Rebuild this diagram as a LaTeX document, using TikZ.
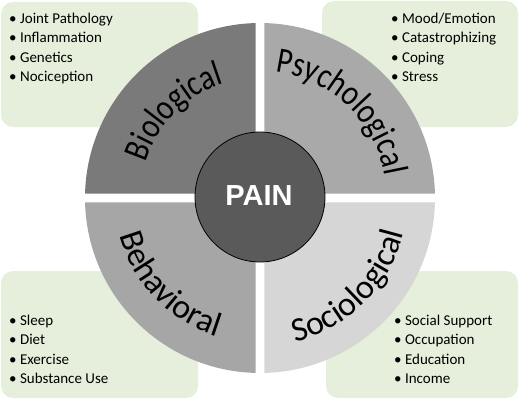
\documentclass[tikz,border=0pt]{standalone}
\usepackage{fontspec}
\setmainfont{Carlito}
\newfontfamily\painfont{Liberation Sans}
\newfontfamily\arcfont[FakeStretch=0.83]{Carlito}
\usetikzlibrary{decorations.text}

\definecolor{boxgreen}{HTML}{E5EFDC}
\definecolor{biocol}{HTML}{7A7A7A}
\definecolor{psycol}{HTML}{A9A9A9}
\definecolor{behcol}{HTML}{A6A6A6}
\definecolor{soccol}{HTML}{D6D6D6}
\definecolor{paincol}{HTML}{5A5A5A}
\newcommand\arclabel{\arcfont\fontsize{36}{36}\selectfont}
\newcommand\arclabellow{\fontsize{34}{34}\selectfont}

\begin{document}
\begin{tikzpicture}[x=1pt, y=1pt,
  panel/.style={fill=boxgreen, rounded corners=12pt},
  items/.style={align=left, inner sep=0pt, anchor=north west, font=\fontsize{15}{19.5}\selectfont},
  arctext/.style 2 args={decorate, decoration={text along path, text align=center, text={|#1|#2}}}]
\useasboundingbox (0,0) rectangle (520,400);
% corner panels
\fill[panel] (1,273) rectangle (198,398);
\fill[panel] (322,273) rectangle (518,399);
\fill[panel] (1,2) rectangle (198,129);
\fill[panel] (326,2) rectangle (518,129);
\node[items] (bio) at (9,387.5) {• Joint Pathology\\• Inflammation\\• Genetics\\• Nociception};
\node[items] (psy) at (391,387.5) {• Mood/Emotion\\• Catastrophizing\\• Coping\\• Stress};
\node[items] (beh) at (9,85.5) {• Sleep\\• Diet\\• Exercise\\• Substance Use};
\node[items] (soc) at (394,85.5) {• Social Support\\• Occupation\\• Education\\• Income};
% the four quadrants
\begin{scope}[shift={(260,202)}]
\fill[biocol] (-4.5,4.5) -- (91.47:175) arc[start angle=91.47, end angle=178.53, radius=175] -- cycle;
\fill[psycol] (4.5,4.5) -- (1.47:175) arc[start angle=1.47, end angle=88.53, radius=175] -- cycle;
\fill[behcol] (-4.5,-4.5) -- (181.47:175) arc[start angle=181.47, end angle=268.53, radius=175] -- cycle;
\fill[soccol] (4.5,-4.5) -- (271.47:175) arc[start angle=271.47, end angle=358.53, radius=175] -- cycle;
\path[arctext={\arclabel}{Biological}] (180:120) arc[start angle=180, end angle=90, radius=120];
\path[arctext={\arclabel}{Psychological}] (91.5:127) arc[start angle=91.5, end angle=1.5, radius=127];
\path[arctext={\arclabellow}{Behavioral}] (178.9:145) arc[start angle=178.9, end angle=268.9, radius=145];
\path[arctext={\arclabellow}{Sociological}] (270:148) arc[start angle=270, end angle=360, radius=148];
% centre
\node[circle, draw=black, line width=0.8pt, fill=paincol, minimum size=130pt, inner sep=0pt] (pain) at (0,1) {};
\node[text=white, font=\painfont\bfseries\fontsize{29}{29}\selectfont] (paintext) at (-1,2.5) {PAIN};
\end{scope}
\end{tikzpicture}
\end{document}
